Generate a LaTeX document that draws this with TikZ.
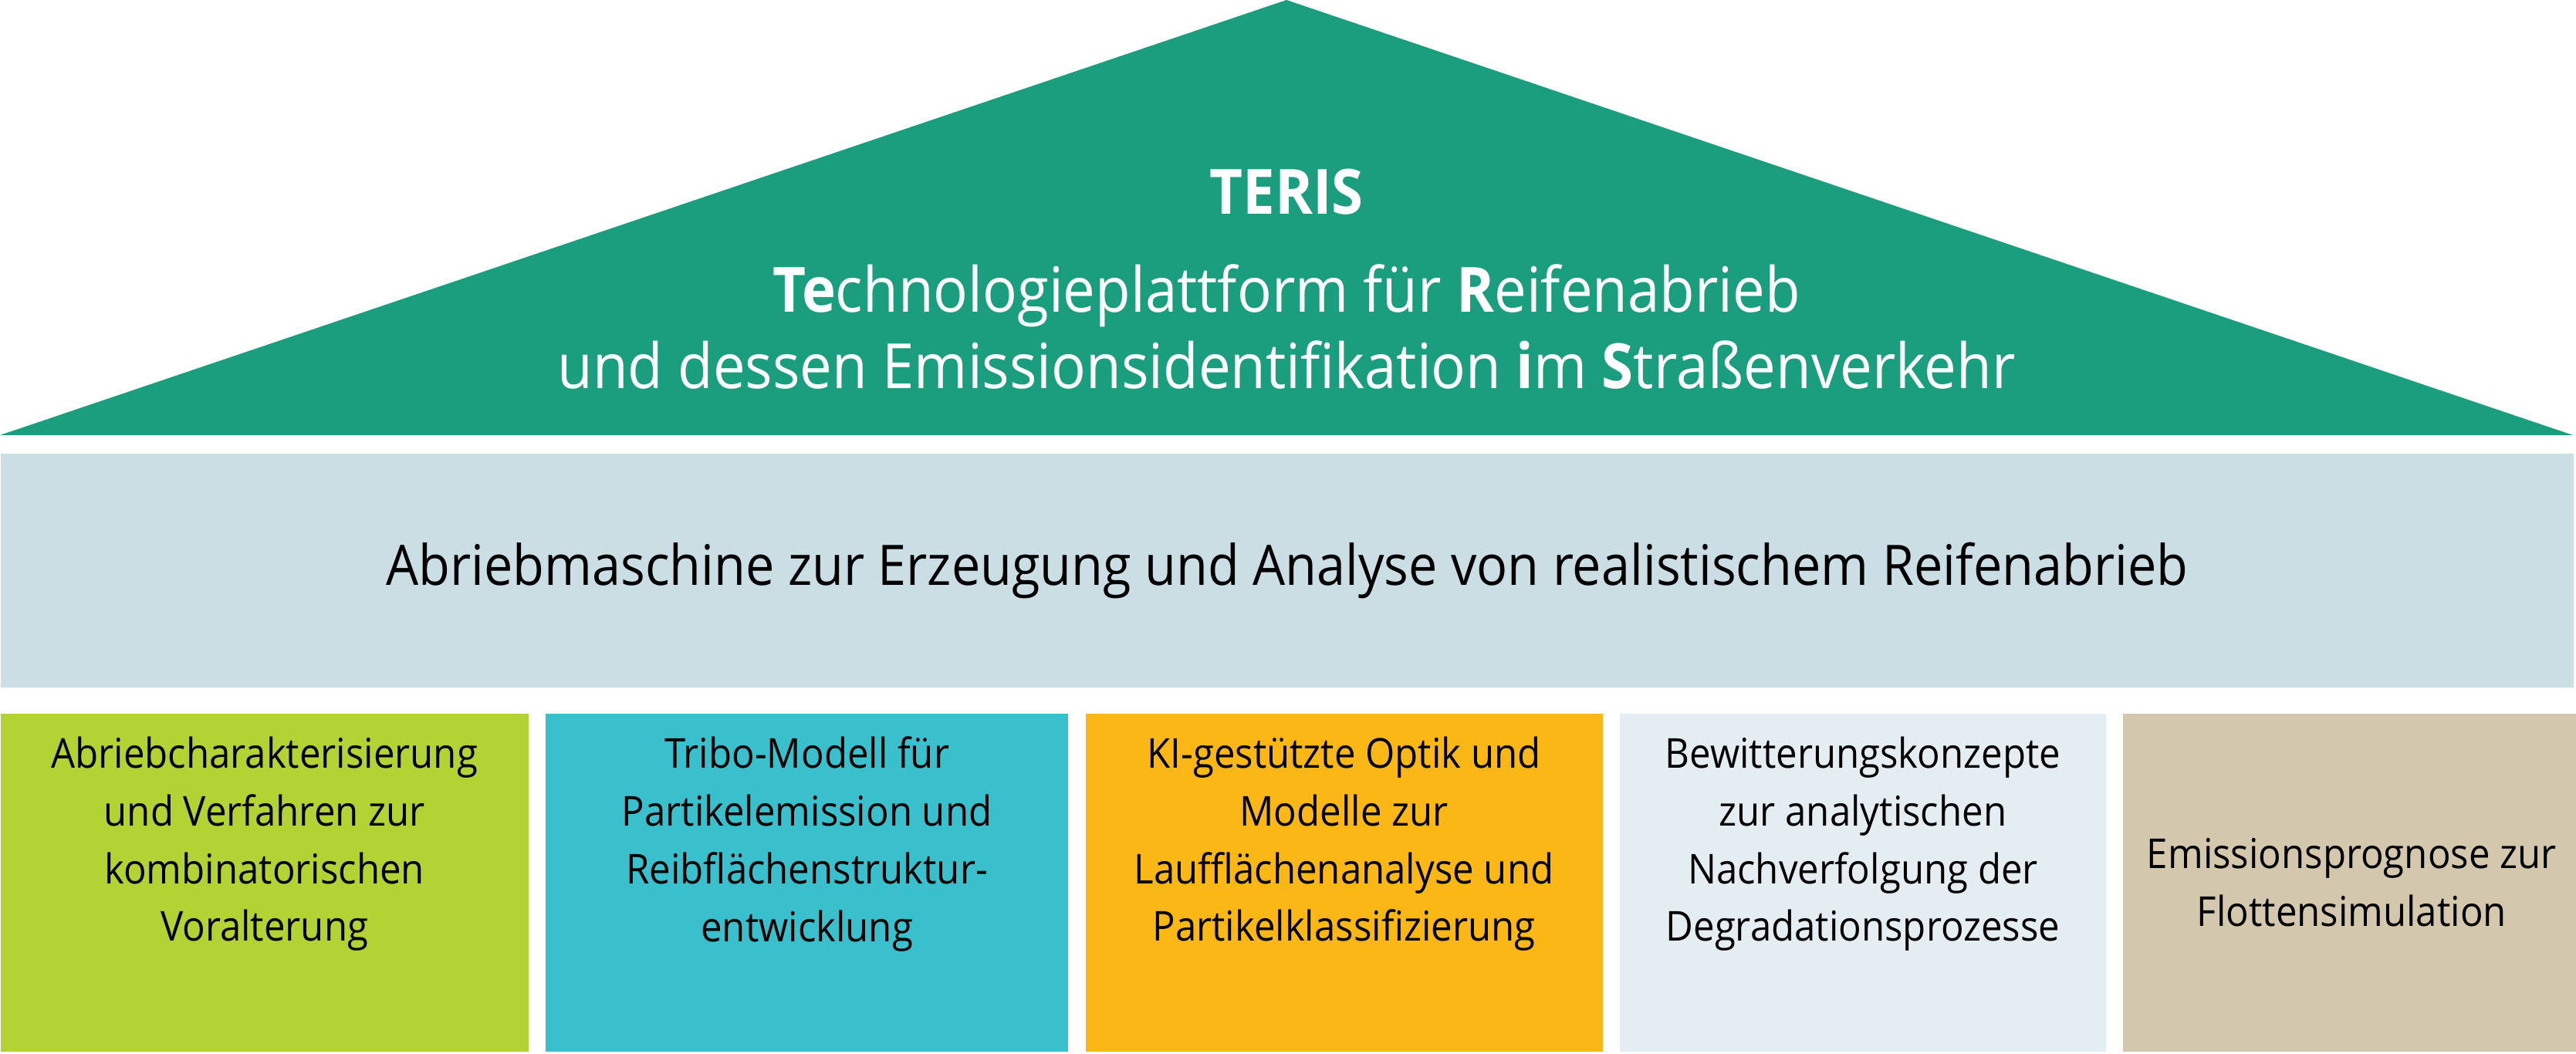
\documentclass[tikz,border=0pt]{standalone}
\usepackage{fontspec}
\setmainfont{Open Sans}[FakeStretch=0.92]
\usepackage{tikz}
\usetikzlibrary{positioning}
\definecolor{roofgreen}{RGB}{26,158,125}
\definecolor{bandblue}{RGB}{203,222,228}
\definecolor{limegreen}{RGB}{179,211,53}
\definecolor{tealblue}{RGB}{58,191,204}
\definecolor{amber}{RGB}{251,183,22}
\definecolor{paleblue}{RGB}{227,237,242}
\definecolor{sand}{RGB}{211,199,173}

\begin{document}
\begin{tikzpicture}[
  node distance=2.1mm,
  roof/.style={fill=roofgreen},
  band/.style={
    rectangle, fill=bandblue, inner sep=0pt,
    minimum width=33.34cm, minimum height=3.03cm,
    font=\fontsize{20.6}{25}\selectfont
  },
  pillar/.style={rectangle, inner sep=0pt, minimum height=4.38cm, anchor=north west},
  lbl/.style={align=center, inner sep=0pt, font=\fontsize{15.2}{21.3}\selectfont},
  ttl/.style={text=white, inner sep=0pt, font=\fontsize{23}{28}\selectfont}
]
\useasboundingbox (0,0) rectangle (33.38,13.66);

\fill[roof] (0,8.02) -- (33.34,8.02) -- (16.67,13.66) -- cycle;

\node (teris) [ttl, anchor=base] at (16.67,10.88) {\textbf{TERIS}};
\node (sub1) [ttl, below=1.27cm of teris.base, anchor=base]
  {\textbf{Te}chnologieplattform für \textbf{R}eifenabrieb};
\node (sub2) [ttl, below=0.99cm of sub1.base, anchor=base]
  {und dessen Emissionsidentifikation \textbf{i}m \textbf{S}traßenverkehr};

\node (band) [band, anchor=north west] at (0,7.79)
  {Abriebmaschine zur Erzeugung und Analyse von realistischem Reifenabrieb};

\node (p1) [pillar, fill=limegreen, minimum width=6.84cm] at (0,4.42) {};
\node (p2) [pillar, fill=tealblue, minimum width=6.77cm, right=of p1] {};
\node (p3) [pillar, fill=amber, minimum width=6.70cm, right=of p2] {};
\node (p4) [pillar, fill=paleblue, minimum width=6.30cm, right=of p3] {};
\node (p5) [pillar, fill=sand, minimum width=5.92cm, right=of p4] {};

\node (t1) [lbl, below=0.3cm of p1.north]
  {Abriebcharakterisierung\\und Verfahren zur\\kombinatorischen\\Voralterung};
\node (t2) [lbl, below=0.3cm of p2.north]
  {Tribo-Modell für\\Partikelemission und\\Reibflächenstruktur-\\entwicklung};
\node (t3) [lbl, below=0.3cm of p3.north]
  {KI-gestützte Optik und\\Modelle zur\\Laufflächenanalyse und\\Partikelklassifizierung};
\node (t4) [lbl, below=0.3cm of p4.north]
  {Bewitterungskonzepte\\zur analytischen\\Nachverfolgung der\\Degradationsprozesse};
\node (t5) [lbl] at (p5.center)
  {Emissionsprognose zur\\Flottensimulation};
\end{tikzpicture}
\end{document}
